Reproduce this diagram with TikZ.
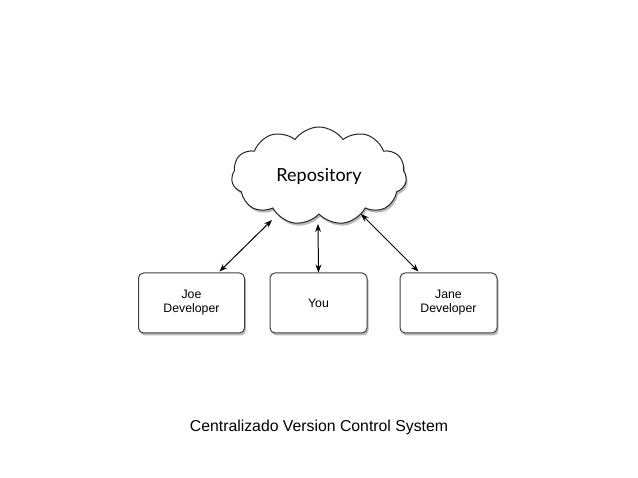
\documentclass[tikz,border=0pt]{standalone}
\usepackage{fontspec}
\setmainfont{Liberation Sans}
\newfontfamily\gill{Lato}
\usetikzlibrary{shapes.symbols,shadows,arrows.meta}
\begin{document}
\begin{tikzpicture}[x=1pt,y=-1pt,
  devbox/.style={draw=black!75,line width=1pt,fill=white,rounded corners=5pt,minimum width=106pt,minimum height=60pt,align=center,font=\fontsize{12.3}{14}\selectfont,drop shadow={shadow xshift=1.5pt,shadow yshift=-2.5pt,opacity=0.55}},
  link/.style={{Stealth[length=8pt,width=6pt]}-{Stealth[length=8pt,width=6pt]},line width=1pt}]
\useasboundingbox (0,0) rectangle (638,478);
\node[cloud,cloud puffs=11,cloud puff arc=110,aspect=2,draw=black!85,line width=1pt,fill=white,minimum width=175pt,minimum height=98pt,drop shadow={shadow xshift=1.5pt,shadow yshift=-2.5pt,opacity=0.55},font=\gill\fontsize{18}{20}\selectfont] (repo) at (319,176) {Repository};
\node[devbox] (joe) at (191.5,303) {Joe\\Developer};
\node[devbox,minimum width=97pt] (you) at (318.5,303) {You};
\node[devbox,minimum width=97pt] (jane) at (448.5,303) {Jane\\Developer};
\coordinate (c1) at (272,220);
\coordinate (c2) at (318,224);
\coordinate (c3) at (361,214);
\draw[link] (joe.north)+(28,-1) -- (c1);
\draw[link] (you.north) -- (c2);
\draw[link] (jane.north)+(-30,-1) -- (c3);
\node[font=\fontsize{15.8}{18}\selectfont] (cap) at (319,427) {Centralizado Version Control System};
\end{tikzpicture}
\end{document}
